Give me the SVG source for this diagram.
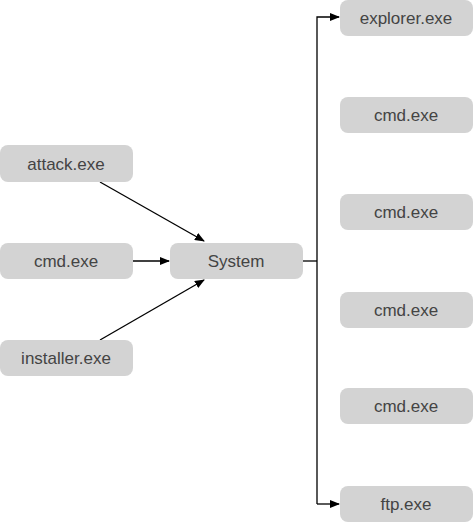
<svg xmlns="http://www.w3.org/2000/svg" width="474" height="522" viewBox="0 0 474 522">
<style>
.n rect{fill:#d3d3d3;stroke:none}
.n text{font-family:"Liberation Sans",Arial,sans-serif;font-size:17px;fill:#444;text-anchor:middle;dominant-baseline:central}
.c path{fill:none;stroke:#000;stroke-width:1.3}
</style>
<defs>
<marker id="ah" markerWidth="10" markerHeight="8" refX="9" refY="4" orient="auto" markerUnits="userSpaceOnUse">
<path d="M0,0 L10,4 L0,8 Z" fill="#000"/>
</marker>
</defs>
<rect width="474" height="522" fill="#fff"/>
<g class="c">
<path d="M100,182 L204,241" marker-end="url(#ah)"/>
<path d="M133,261 L169,261" marker-end="url(#ah)"/>
<path d="M100,340 L204,280" marker-end="url(#ah)"/>
<path d="M303,261 H317"/>
<path d="M317,504 V17 H339" marker-end="url(#ah)"/>
<path d="M317,504 H339" marker-end="url(#ah)"/>
</g>
<g id="n-left1" class="n"><rect x="0" y="145" width="133" height="37" rx="8"/><text x="66" y="164">attack.exe</text></g>
<g id="n-left2" class="n"><rect x="0" y="243" width="133" height="36" rx="8"/><text x="66" y="261">cmd.exe</text></g>
<g id="n-left3" class="n"><rect x="0" y="340" width="133" height="36" rx="8"/><text x="66" y="358">installer.exe</text></g>
<g id="n-system" class="n"><rect x="170" y="243" width="133" height="36" rx="8"/><text x="236" y="261">System</text></g>
<g id="n-r1" class="n"><rect x="340" y="0" width="133" height="36" rx="8"/><text x="406" y="18">explorer.exe</text></g>
<g id="n-r2" class="n"><rect x="340" y="97" width="133" height="36" rx="8"/><text x="406" y="115">cmd.exe</text></g>
<g id="n-r3" class="n"><rect x="340" y="194" width="133" height="36" rx="8"/><text x="406" y="212">cmd.exe</text></g>
<g id="n-r4" class="n"><rect x="340" y="292" width="133" height="36" rx="8"/><text x="406" y="310">cmd.exe</text></g>
<g id="n-r5" class="n"><rect x="340" y="388" width="133" height="36" rx="8"/><text x="406" y="406">cmd.exe</text></g>
<g id="n-r6" class="n"><rect x="340" y="486" width="133" height="36" rx="8"/><text x="406" y="504">ftp.exe</text></g>
</svg>
